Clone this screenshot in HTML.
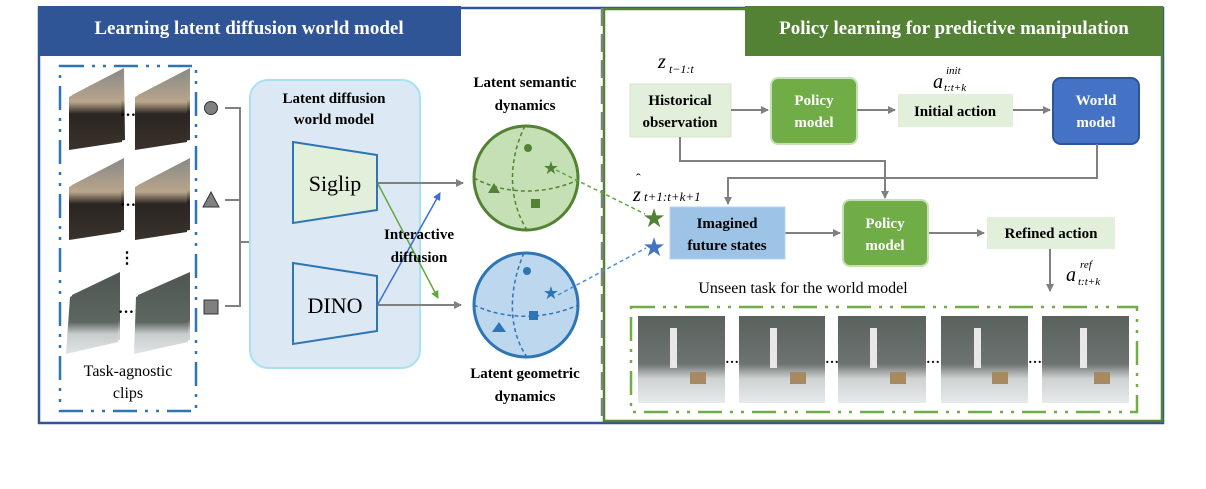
<!DOCTYPE html>
<html><head><meta charset="utf-8"><style>
body{margin:0;background:#fff}
svg text{font-family:"Liberation Serif",serif}
</style></head><body>
<svg width="1206" height="484" viewBox="0 0 1206 484" xmlns="http://www.w3.org/2000/svg">
<defs>
<marker id="ag" markerWidth="8" markerHeight="8" refX="7" refY="4" orient="auto" markerUnits="userSpaceOnUse"><path d="M0,0 L8,4 L0,8 z" fill="#808080"/></marker>
<marker id="agr" markerWidth="8" markerHeight="8" refX="7" refY="4" orient="auto" markerUnits="userSpaceOnUse"><path d="M0,0 L8,4 L0,8 z" fill="#5fa83a"/></marker>
<marker id="abl" markerWidth="8" markerHeight="8" refX="7" refY="4" orient="auto" markerUnits="userSpaceOnUse"><path d="M0,0 L8,4 L0,8 z" fill="#3a6fd0"/></marker>
<linearGradient id="kit" x1="0" y1="0" x2="0" y2="1"><stop offset="0" stop-color="#8a8a88"/><stop offset="0.4" stop-color="#b9a58a"/><stop offset="0.55" stop-color="#2a2522"/><stop offset="1" stop-color="#3a322c"/></linearGradient>
<linearGradient id="kit2" x1="1" y1="0" x2="0" y2="1"><stop offset="0" stop-color="#d9c7aa"/><stop offset="0.5" stop-color="#c0ab8c"/><stop offset="0.55" stop-color="#2b2622"/><stop offset="1" stop-color="#2b2622"/></linearGradient>
<linearGradient id="real" x1="0" y1="0" x2="0" y2="1"><stop offset="0" stop-color="#5a625e"/><stop offset="0.55" stop-color="#6d7370"/><stop offset="0.72" stop-color="#cfd2d3"/><stop offset="1" stop-color="#e6eaea"/></linearGradient>
<linearGradient id="rob" x1="0" y1="0" x2="0" y2="1"><stop offset="0" stop-color="#4f5753"/><stop offset="0.6" stop-color="#5e6662"/><stop offset="0.75" stop-color="#c8cccc"/><stop offset="1" stop-color="#dfe4e4"/></linearGradient>
</defs>

<rect x="39" y="8" width="1124" height="415" fill="none" stroke="#2f5597" stroke-width="2.5"/>
<rect x="38" y="6" width="423" height="50" fill="#2f5597"/>
<text x="249" y="34" font-size="19" font-weight="bold" fill="#fff" text-anchor="middle">Learning latent diffusion world model</text>
<rect x="604" y="9" width="558" height="412" fill="#fff" stroke="#548235" stroke-width="2.5"/>
<rect x="745" y="6" width="418" height="50" fill="#548235"/>
<text x="954" y="34" font-size="19" font-weight="bold" fill="#fff" text-anchor="middle">Policy learning for predictive manipulation</text>
<line x1="602" y1="8" x2="602" y2="424" stroke="#808080" stroke-width="2.5" stroke-dasharray="18,8"/>

<!-- clips -->
<rect x="60" y="66" width="136" height="345" fill="none" stroke="#2e75b6" stroke-width="2.5" stroke-dasharray="24,8,3,8,3,8"/>
<polygon points="72,95 124,68 125,140 72,148" fill="url(#kit)"/><polygon points="69,97 121,70 122,142 69,150" fill="url(#kit)"/>
<polygon points="138,95 190,68 190,140 138,148" fill="url(#kit)"/><polygon points="135,97 187,70 187,142 135,150" fill="url(#kit)"/>
<polygon points="72,185 124,158 124,230 72,238" fill="url(#kit)"/><polygon points="69,187 121,160 121,232 69,240" fill="url(#kit)"/>
<polygon points="138,185 190,158 190,230 138,238" fill="url(#kit)"/><polygon points="135,187 187,160 187,232 135,240" fill="url(#kit)"/>
<polygon points="72,295 120,272 120,340 68,352" fill="url(#rob)"/><polygon points="70,297 118,274 118,342 66,354" fill="url(#rob)"/>
<polygon points="138,295 190,272 190,340 136,352" fill="url(#rob)"/><polygon points="136,297 188,274 188,342 134,354" fill="url(#rob)"/>
<g font-size="16" font-weight="bold" text-anchor="middle"><text x="128" y="116">…</text><text x="128" y="206">…</text><text x="126" y="313">…</text><text x="127" y="263">⋮</text></g>
<text x="128" y="376" font-size="16" text-anchor="middle">Task-agnostic</text>
<text x="128" y="398" font-size="16" text-anchor="middle">clips</text>

<circle cx="211" cy="108" r="6.5" fill="#808080" stroke="#333" stroke-width="1"/>
<polygon points="211,192 203,207 219,207" fill="#808080" stroke="#333" stroke-width="1"/>
<rect x="204" y="300" width="14" height="14" fill="#808080" stroke="#333" stroke-width="1"/>
<g stroke="#808080" stroke-width="2" fill="none">
<path d="M225,108 H240 V306 H225"/><path d="M225,200 H240"/><path d="M240,242 H261"/>
<path d="M261,183 V304"/>
<path d="M261,183 H290" marker-end="url(#ag)"/><path d="M261,304 H290" marker-end="url(#ag)"/>
</g>

<rect x="250" y="80" width="170" height="288" rx="18" fill="#dde8f5" stroke="#a8e2f0" stroke-width="2"/>
<text x="334" y="103" font-size="15" font-weight="bold" text-anchor="middle">Latent diffusion</text>
<text x="334" y="124" font-size="15" font-weight="bold" text-anchor="middle">world model</text>
<polygon points="293,142 377,155 377,210 293,223" fill="#e2efda" stroke="#2e75b6" stroke-width="2"/>
<text x="335" y="191" font-size="22" text-anchor="middle">Siglip</text>
<polygon points="293,263 377,276 377,331 293,344" fill="#dde8f5" stroke="#2e75b6" stroke-width="2"/>
<text x="335" y="313" font-size="22" text-anchor="middle">DINO</text>
<g stroke="#808080" stroke-width="2" fill="none">
<path d="M378,183 H463" marker-end="url(#ag)"/><path d="M378,305 H461" marker-end="url(#ag)"/>
</g>
<line x1="378" y1="184" x2="438" y2="298" stroke="#5fa83a" stroke-width="1.5" marker-end="url(#agr)"/>
<line x1="378" y1="304" x2="440" y2="193" stroke="#3a6fd0" stroke-width="1.5" marker-end="url(#abl)"/>
<text x="419" y="239" font-size="15" font-weight="bold" text-anchor="middle">Interactive</text>
<text x="419" y="262" font-size="15" font-weight="bold" text-anchor="middle">diffusion</text>

<text x="525" y="87" font-size="15" font-weight="bold" text-anchor="middle">Latent semantic</text>
<text x="525" y="110" font-size="15" font-weight="bold" text-anchor="middle">dynamics</text>
<circle cx="526" cy="178" r="52" fill="#c5e0b4" stroke="#548235" stroke-width="3"/>
<path d="M525,126 C508,160 508,200 527,230" fill="none" stroke="#548235" stroke-width="1.5" stroke-dasharray="4,3"/>
<path d="M474,178 C505,195 545,195 578,180" fill="none" stroke="#548235" stroke-width="1.5" stroke-dasharray="4,3"/>
<circle cx="528" cy="148" r="4" fill="#548235"/>
<text x="551" y="174" font-size="18" fill="#548235" text-anchor="middle">★</text>
<polygon points="494,183 488,193 500,193" fill="#548235"/>
<rect x="531" y="199" width="9" height="9" fill="#548235"/>
<circle cx="526" cy="305" r="52" fill="#bdd7ee" stroke="#2e75b6" stroke-width="3"/>
<path d="M524,253 C508,290 508,330 527,357" fill="none" stroke="#2e75b6" stroke-width="1.5" stroke-dasharray="4,3"/>
<path d="M474,305 C505,320 545,320 578,305" fill="none" stroke="#2e75b6" stroke-width="1.5" stroke-dasharray="4,3"/>
<circle cx="527" cy="271" r="4" fill="#2e75b6"/>
<text x="551" y="299" font-size="18" fill="#2e75b6" text-anchor="middle">★</text>
<polygon points="499,322 492,332 506,332" fill="#2e75b6"/>
<rect x="529" y="311" width="9" height="9" fill="#2e75b6"/>
<text x="525" y="378" font-size="15" font-weight="bold" text-anchor="middle">Latent geometric</text>
<text x="525" y="401" font-size="15" font-weight="bold" text-anchor="middle">dynamics</text>
<path d="M556,170 L645,214" stroke="#5fa83a" stroke-width="1.5" stroke-dasharray="4,3" fill="none"/>
<path d="M558,295 L646,248" stroke="#4b8fd6" stroke-width="1.5" stroke-dasharray="4,3" fill="none"/>

<!-- right -->
<text x="658" y="68" font-size="20" font-style="italic">z</text>
<text x="669" y="73" font-size="12" font-style="italic">t−1:t</text>
<rect x="630" y="84" width="101" height="53" fill="#e2efda" stroke="#d4e4cc"/>
<text x="680" y="105" font-size="15" font-weight="bold" text-anchor="middle">Historical</text>
<text x="680" y="127" font-size="15" font-weight="bold" text-anchor="middle">observation</text>
<rect x="771" y="78" width="86" height="66" rx="7" fill="#70ad47" stroke="#c5e0b4" stroke-width="2"/>
<text x="814" y="105" font-size="15" font-weight="bold" fill="#fff" text-anchor="middle">Policy</text>
<text x="814" y="127" font-size="15" font-weight="bold" fill="#fff" text-anchor="middle">model</text>
<text x="933" y="88" font-size="20" font-style="italic">a</text>
<text x="946" y="74" font-size="11" font-style="italic">init</text>
<text x="944" y="91" font-size="11" font-style="italic">t:t+k</text>
<rect x="898" y="94" width="115" height="33" fill="#e2efda"/>
<text x="955" y="116" font-size="15" font-weight="bold" text-anchor="middle">Initial action</text>
<rect x="1053" y="78" width="86" height="66" rx="8" fill="#4472c4" stroke="#2f5597" stroke-width="2"/>
<text x="1096" y="105" font-size="15" font-weight="bold" fill="#fff" text-anchor="middle">World</text>
<text x="1096" y="127" font-size="15" font-weight="bold" fill="#fff" text-anchor="middle">model</text>
<g stroke="#808080" stroke-width="2" fill="none">
<path d="M731,110 H768" marker-end="url(#ag)"/>
<path d="M857,110 H895" marker-end="url(#ag)"/>
<path d="M1013,110 H1050" marker-end="url(#ag)"/>
<path d="M680,137 V161 H885 V198" marker-end="url(#ag)"/>
<path d="M1097,144 V178 H728 V204" marker-end="url(#ag)"/>
<path d="M785,233 H840" marker-end="url(#ag)"/>
<path d="M928,233 H984" marker-end="url(#ag)"/>
<path d="M1050,249 V291" marker-end="url(#ag)"/>
</g>
<text x="636" y="183" font-size="14">ˆ</text>
<text x="633" y="201" font-size="20" font-style="italic">z</text>
<text x="644" y="201" font-size="13" font-style="italic">t+1:t+k+1</text>
<text x="654" y="227" font-size="26" fill="#548235" text-anchor="middle">★</text>
<text x="654" y="256" font-size="26" fill="#4472c4" text-anchor="middle">★</text>
<rect x="670" y="207" width="115" height="52" fill="#9dc3e6" stroke="#b7d3ee"/>
<text x="727" y="228" font-size="15" font-weight="bold" text-anchor="middle">Imagined</text>
<text x="727" y="250" font-size="15" font-weight="bold" text-anchor="middle">future states</text>
<rect x="843" y="200" width="85" height="66" rx="7" fill="#70ad47" stroke="#c5e0b4" stroke-width="2"/>
<text x="885" y="228" font-size="15" font-weight="bold" fill="#fff" text-anchor="middle">Policy</text>
<text x="885" y="250" font-size="15" font-weight="bold" fill="#fff" text-anchor="middle">model</text>
<rect x="987" y="217" width="128" height="32" fill="#e2efda"/>
<text x="1051" y="238" font-size="15" font-weight="bold" text-anchor="middle">Refined action</text>
<text x="1066" y="281" font-size="20" font-style="italic">a</text>
<text x="1080" y="268" font-size="11" font-style="italic">ref</text>
<text x="1078" y="285" font-size="11" font-style="italic">t:t+k</text>
<text x="803" y="293" font-size="16" text-anchor="middle">Unseen task for the world model</text>
<rect x="631" y="307" width="506" height="105" fill="none" stroke="#70ad47" stroke-width="2.5" stroke-dasharray="24,8,3,8,3,8"/>
<g>
<rect x="638" y="316" width="87" height="87" fill="url(#real)"/>
<rect x="739" y="316" width="86" height="87" fill="url(#real)"/>
<rect x="838" y="316" width="88" height="87" fill="url(#real)"/>
<rect x="941" y="316" width="87" height="87" fill="url(#real)"/>
<rect x="1042" y="316" width="87" height="87" fill="url(#real)"/>
<g fill="#e8e8e8"><rect x="670" y="328" width="7" height="40"/><rect x="770" y="328" width="7" height="40"/><rect x="870" y="328" width="7" height="40"/><rect x="974" y="328" width="7" height="40"/><rect x="1080" y="328" width="7" height="40"/></g>
<g fill="#a88a60"><rect x="690" y="372" width="16" height="12"/><rect x="790" y="372" width="16" height="12"/><rect x="890" y="372" width="16" height="12"/><rect x="992" y="372" width="16" height="12"/><rect x="1094" y="372" width="16" height="12"/></g>
<g font-size="14" font-weight="bold" text-anchor="middle"><text x="732" y="363">…</text><text x="832" y="363">…</text><text x="933" y="363">…</text><text x="1035" y="363">…</text></g>
</g>
</svg>
</body></html>
